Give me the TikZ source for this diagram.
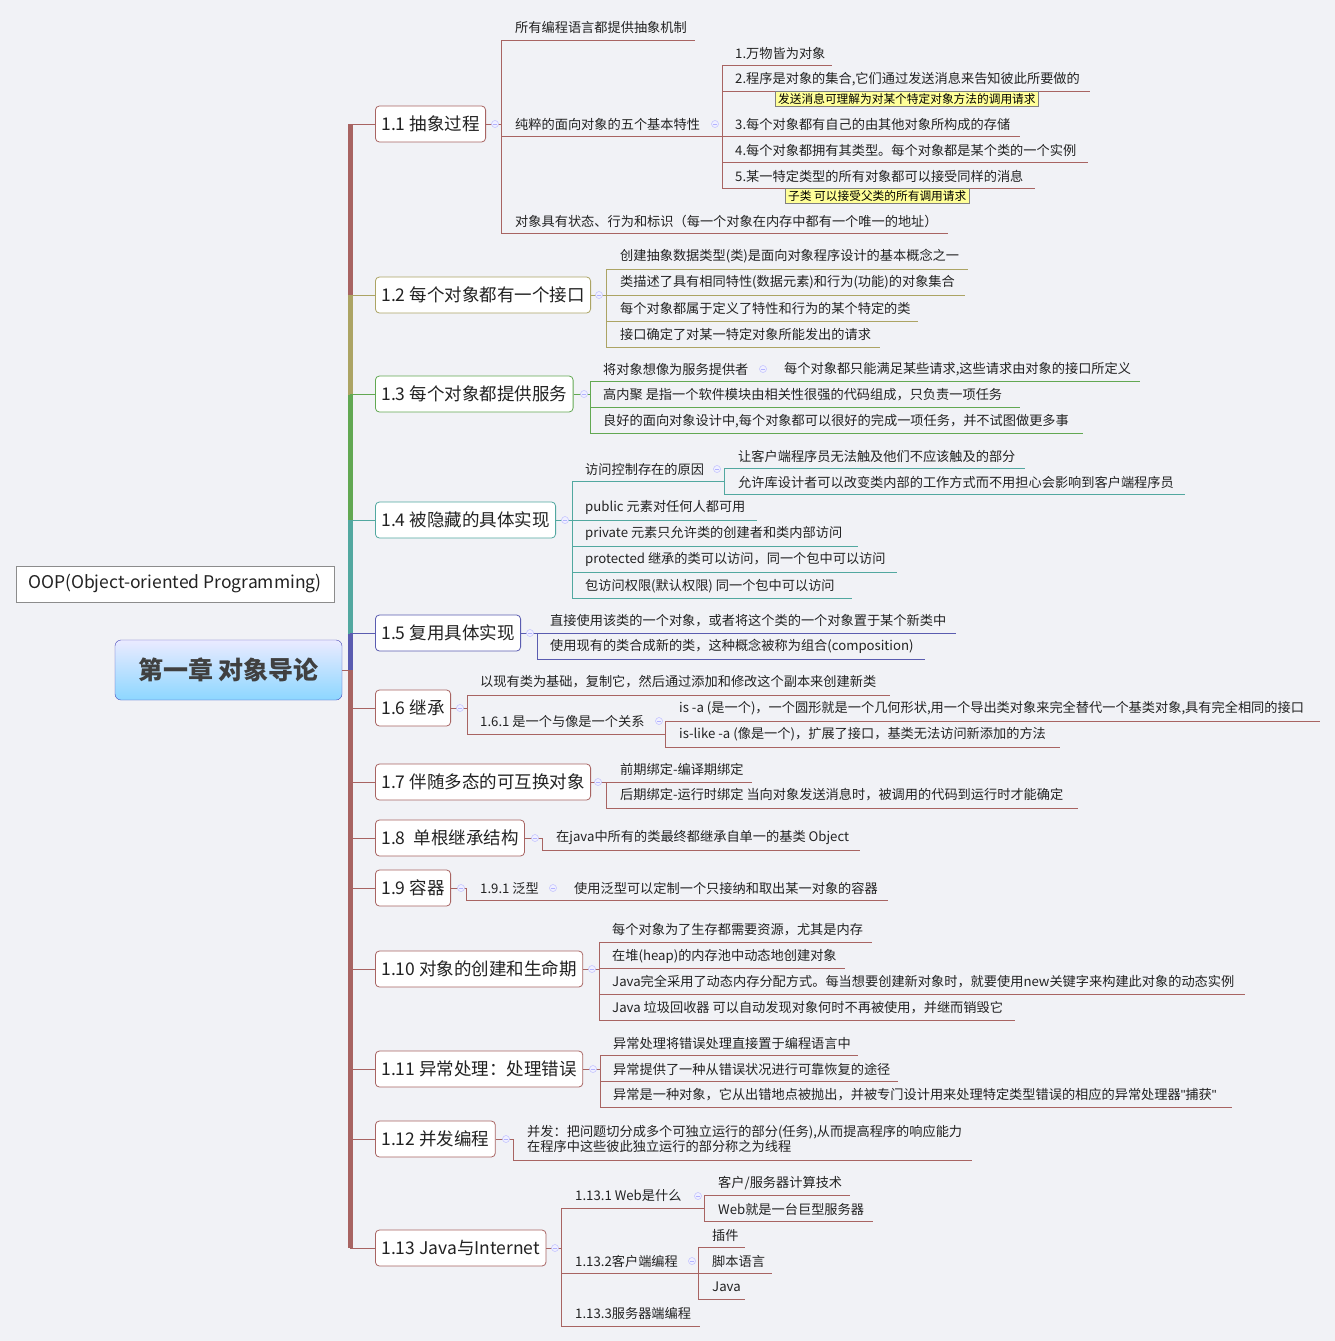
\documentclass[tikz,border=0pt]{standalone}
\usepackage{fontspec}
\setmainfont{Noto Sans CJK SC}
\newfontfamily\qfont{Liberation Sans}
\definecolor{bg}{HTML}{F1F2F6}
\definecolor{cA}{HTML}{A86462}
\definecolor{cB}{HTML}{ACA464}
\definecolor{cC}{HTML}{62A852}
\definecolor{cD}{HTML}{52A8A0}
\definecolor{cE}{HTML}{5A5CB0}
\definecolor{tx}{HTML}{222222}
\definecolor{note}{HTML}{FFFF99}
\tikzset{
 leaf/.style={anchor=west,inner sep=0pt,font=\fontsize{13.2}{15}\selectfont,text=tx},
 topic/.style={draw=#1,rounded corners=4pt,fill=white,line width=0.8pt,minimum height=36pt,inner xsep=6pt,anchor=west,font=\fontsize{17.5}{19}\selectfont,text=tx},
 notebox/.style={draw=black!50,fill=note,inner xsep=3pt,inner ysep=2pt,anchor=north west,font=\fontsize{11.7}{13}\selectfont},
 circ/.style={circle,draw=blue!25,fill=blue!6,minimum size=7pt,inner sep=0pt,line width=0.5pt},
}
\newcommand{\cc}[2]{\node[circ] at (#1,#2) {}; \draw[blue!30,line width=0.5pt] (#1-2,#2)--(#1+2,#2);}
\begin{document}
\begin{tikzpicture}[x=1pt,y=-1pt]
\fill[bg] (0,0) rectangle (1335,1341);
\useasboundingbox (0,0) rectangle (1335,1341);
% trunk
\draw[cA,line width=5pt] (350,124)--(350,295);
\draw[cB,line width=5pt] (350,295)--(350,395);
\draw[cC,line width=5pt] (350,395)--(350,520);
\draw[cD,line width=5pt] (350,520)--(350,634);
\draw[cE,line width=5pt] (350,634)--(350,670);
\draw[cA,line width=5pt] (350,670)--(350,1248);
% root
\node[draw=blue!45!gray,rounded corners=6pt,top color=blue!8,bottom color=blue!35!cyan!45,minimum width=227pt,minimum height=60pt,font=\fontsize{25}{28}\bfseries\selectfont,text=black!75] (root) at (228.5,670) {第一章 对象导论};
\draw[cA,line width=0.8pt] (root.east)--(350,670);
\node[draw=black!45,fill=white,minimum width=318pt,minimum height=36pt,font=\fontsize{17.5}{19}\selectfont,text=tx] (oop) at (175,584) {OOP(Object-oriented Programming)};
% topics
\foreach \n/\y/\c/\t in {a/124/cA/1.1 抽象过程,b/295/cB/1.2 每个对象都有一个接口,c/394/cC/1.3 每个对象都提供服务,d/520/cD/1.4 被隐藏的具体实现,e/633/cE/1.5 复用具体实现,f/708/cA/1.6 继承,g/782/cA/1.7 伴随多态的可互换对象,h/838/cA/1.8 \ 单根继承结构,i/888/cA/1.9 容器,j/969/cA/1.10 对象的创建和生命期,k/1069/cA/1.11 异常处理：处理错误,l/1139/cA/1.12 并发编程,m/1248/cA/1.13 Java与Internet}{
 \draw[\c,line width=0.8pt] (350,\y)--(375,\y);
 \node[topic=\c] (t\n) at (375,\y) {\t};
}
% ---- 1.1
\begin{scope}[cA,line width=0.8pt]
\draw (ta.east)--(501,124);
\draw (501,40)--(501,233);
\draw (501,40)--(695,40); \draw (501,136)--(722,136); \draw (501,233)--(948,233);
\draw (722,65)--(722,188);
\draw (722,65)--(832,65); \draw (722,91)--(1090,91); \draw (722,136)--(1020,136); \draw (722,162)--(1088,162); \draw (722,188)--(1035,188);
\end{scope}
\cc{495}{124}
\node[leaf] (a1) at (515,27) {所有编程语言都提供抽象机制};
\node[leaf] (a2) at (515,124) {纯粹的面向对象的五个基本特性};
\cc{715}{124}
\node[leaf] (a3) at (515,221) {对象具有状态、行为和标识（每一个对象在内存中都有一个唯一的地址）};
\node[leaf] (a21) at (735,53) {1.万物皆为对象};
\node[leaf] (a22) at (735,79) {2.程序是对象的集合,它们通过发送消息来告知彼此所要做的};
\node[notebox] (n1) at (775,91) {发送消息可理解为对某个特定对象方法的调用请求};
\node[leaf] (a23) at (735,124) {3.每个对象都有自己的由其他对象所构成的存储};
\node[leaf] (a24) at (735,150) {4.每个对象都拥有其类型。每个对象都是某个类的一个实例};
\node[leaf] (a25) at (735,176) {5.某一特定类型的所有对象都可以接受同样的消息};
\node[notebox] (n2) at (785,188) {子类 可以接受父类的所有调用请求};
% ---- 1.2
\begin{scope}[cB,line width=0.8pt]
\draw (tb.east)--(606,295);
\draw (606,269)--(606,347);
\draw (606,269)--(968,269); \draw (606,295)--(965,295); \draw (606,321)--(918,321); \draw (606,347)--(880,347);
\end{scope}
\cc{599}{295}
\node[leaf] (b1) at (620,256) {创建抽象数据类型(类)是面向对象程序设计的基本概念之一};
\node[leaf] (b2) at (620,282) {类描述了具有相同特性(数据元素)和行为(功能)的对象集合};
\node[leaf] (b3) at (620,308) {每个对象都属于定义了特性和行为的某个特定的类};
\node[leaf] (b4) at (620,334) {接口确定了对某一特定对象所能发出的请求};
% ---- 1.3
\begin{scope}[cC,line width=0.8pt]
\draw (tc.east)--(590,394);
\draw (590,381)--(590,433);
\draw (590,381)--(1140,381); \draw (590,407)--(1020,407); \draw (590,433)--(1083,433);
\end{scope}
\cc{584}{394}
\node[leaf] (c1) at (603,369) {将对象想像为服务提供者};
\cc{763}{369}
\node[leaf] (c11) at (784,369) {每个对象都只能满足某些请求,这些请求由对象的接口所定义};
\node[leaf] (c2) at (603,395) {高内聚 是指一个软件模块由相关性很强的代码组成，只负责一项任务};
\node[leaf] (c3) at (603,421) {良好的面向对象设计中,每个对象都可以很好的完成一项任务，并不试图做更多事};
% ---- 1.4
\begin{scope}[cD,line width=0.8pt]
\draw (td.east)--(572,520);
\draw (572,481)--(572,598);
\draw (572,481)--(724,481); \draw (572,520)--(757,520); \draw (572,546)--(858,546); \draw (572,572)--(897,572); \draw (572,598)--(852,598);
\draw (724,468)--(724,494);
\draw (724,468)--(1025,468); \draw (724,494)--(1185,494);
\end{scope}
\cc{565}{520}
\node[leaf] (d1) at (585,469) {访问控制存在的原因};
\cc{717}{469}
\node[leaf] (d11) at (738,456) {让客户端程序员无法触及他们不应该触及的部分};
\node[leaf] (d12) at (738,482) {允许库设计者可以改变类内部的工作方式而不用担心会影响到客户端程序员};
\node[leaf] (d2) at (585,507) {public 元素对任何人都可用};
\node[leaf] (d3) at (585,533) {private 元素只允许类的创建者和类内部访问};
\node[leaf] (d4) at (585,559) {protected 继承的类可以访问，同一个包中可以访问};
\node[leaf] (d5) at (585,586) {包访问权限(默认权限) 同一个包中可以访问};
% ---- 1.5
\begin{scope}[cE,line width=0.8pt]
\draw (te.east)--(537,633);
\draw (537,633)--(537,659);
\draw (537,633)--(956,633); \draw (537,659)--(925,659);
\end{scope}
\cc{530}{633}
\node[leaf] (e1) at (550,621) {直接使用该类的一个对象，或者将这个类的一个对象置于某个新类中};
\node[leaf] (e2) at (550,646) {使用现有的类合成新的类，这种概念被称为组合(composition)};
% ---- 1.6..1.13
\begin{scope}[cA,line width=0.8pt]
\draw (tf.east)--(467,708); \draw (467,695)--(467,734);
\draw (467,695)--(890,695); \draw (467,734)--(665,734);
\draw (665,721)--(665,747); \draw (665,721)--(1320,721); \draw (665,747)--(1060,747);
\draw (tg.east)--(606,782); \draw (606,782)--(606,808);
\draw (606,782)--(752,782); \draw (606,808)--(1078,808);
\draw (th.east)--(542,838)--(542,850)--(860,850);
\draw (ti.east)--(466,888)--(466,900)--(888,900);
\draw (tj.east)--(599,969); \draw (599,942)--(599,1020);
\draw (599,942)--(872,942); \draw (599,968)--(845,968); \draw (599,994)--(1245,994); \draw (599,1020)--(1015,1020);
\draw (tk.east)--(600,1069); \draw (600,1055)--(600,1107);
\draw (600,1055)--(858,1055); \draw (600,1081)--(898,1081); \draw (600,1107)--(1232,1107);
\draw (tl.east)--(513,1139)--(513,1160)--(972,1160);
\draw (tm.east)--(561,1248); \draw (561,1208)--(561,1326);
\draw (561,1208)--(704,1208); \draw (561,1273)--(698,1273); \draw (561,1326)--(700,1326);
\draw (704,1195)--(704,1221); \draw (704,1195)--(850,1195); \draw (704,1221)--(873,1221);
\draw (698,1247)--(698,1299); \draw (698,1247)--(745,1247); \draw (698,1273)--(772,1273); \draw (698,1299)--(745,1299);
\end{scope}
\cc{460}{708}\cc{659}{721}\cc{598}{782}\cc{535}{838}\cc{461}{888}\cc{553}{888}\cc{592}{969}\cc{593}{1069}\cc{506}{1139}\cc{555}{1248}\cc{698}{1196}\cc{692}{1261}
\node[leaf] (f1) at (480,682) {以现有类为基础，复制它，然后通过添加和修改这个副本来创建新类};
\node[leaf] (f2) at (480,721) {1.6.1 是一个与像是一个关系};
\node[leaf] (f21) at (679,708) {is -a (是一个)，一个圆形就是一个几何形状,用一个导出类对象来完全替代一个基类对象,具有完全相同的接口};
\node[leaf] (f22) at (679,734) {is-like -a (像是一个)，扩展了接口，基类无法访问新添加的方法};
\node[leaf] (g1) at (620,769) {前期绑定-编译期绑定};
\node[leaf] (g2) at (620,795) {后期绑定-运行时绑定 当向对象发送消息时，被调用的代码到运行时才能确定};
\node[leaf] (h1) at (556,838) {在java中所有的类最终都继承自单一的基类 Object};
\node[leaf] (i1) at (480,888) {1.9.1 泛型};
\node[leaf] (i11) at (574,888) {使用泛型可以定制一个只接纳和取出某一对象的容器};
\node[leaf] (j1) at (612,930) {每个对象为了生存都需要资源，尤其是内存};
\node[leaf] (j2) at (612,956) {在堆(heap)的内存池中动态地创建对象};
\node[leaf] (j3) at (612,982) {Java完全采用了动态内存分配方式。每当想要创建新对象时，就要使用new关键字来构建此对象的动态实例};
\node[leaf] (j4) at (612,1008) {Java 垃圾回收器 可以自动发现对象何时不再被使用，并继而销毁它};
\node[leaf] (k1) at (613,1043) {异常处理将错误处理直接置于编程语言中};
\node[leaf] (k2) at (613,1069) {异常提供了一种从错误状况进行可靠恢复的途径};
\node[leaf] (k3) at (613,1095) {异常是一种对象，它从出错地点被抛出，并被专门设计用来处理特定类型错误的相应的异常处理器{\qfont\symbol{34}}捕获{\qfont\symbol{34}}};
\node[leaf,align=left] (l1) at (527,1139) {并发：把问题切分成多个可独立运行的部分(任务),从而提高程序的响应能力\\在程序中这些彼此独立运行的部分称之为线程};
\node[leaf] (m1) at (575,1196) {1.13.1 Web是什么};
\node[leaf] (m11) at (718,1183) {客户/服务器计算技术};
\node[leaf] (m12) at (718,1209) {Web就是一台巨型服务器};
\node[leaf] (m2) at (575,1261) {1.13.2客户端编程};
\node[leaf] (m21) at (712,1235) {插件};
\node[leaf] (m22) at (712,1261) {脚本语言};
\node[leaf] (m23) at (712,1287) {Java};
\node[leaf] (m3) at (575,1313) {1.13.3服务器端编程};
\end{tikzpicture}
\end{document}
